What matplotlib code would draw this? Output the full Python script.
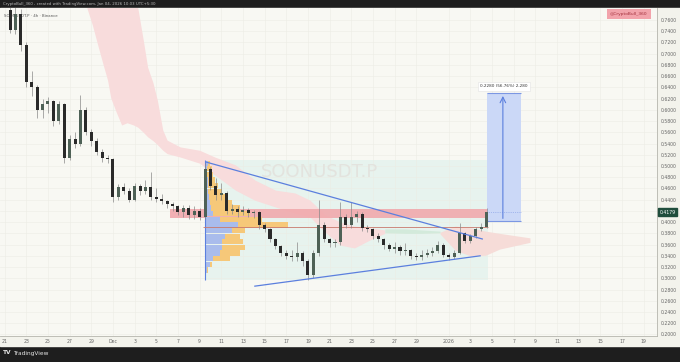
import numpy as np
import matplotlib.pyplot as plt
from matplotlib.patches import Rectangle

# x axis = days since Dec 1 2025, 12h candles
candle_day = np.arange(-9.5, 35.0, 0.5)
opens = [0.778, 0.742, 0.770, 0.715, 0.650, 0.640, 0.600, 0.610, 0.615, 0.580,
         0.610, 0.515, 0.548, 0.540, 0.600, 0.560, 0.545, 0.525, 0.515,
         0.512, 0.445, 0.462, 0.455, 0.440, 0.465, 0.455, 0.462, 0.445, 0.442,
         0.438, 0.432, 0.428, 0.418, 0.425, 0.412, 0.420, 0.410, 0.495, 0.465,
         0.448, 0.452, 0.420, 0.423, 0.418, 0.421, 0.416, 0.418, 0.395, 0.388,
         0.370, 0.358, 0.345, 0.340, 0.338, 0.345, 0.330, 0.305, 0.345, 0.395,
         0.370, 0.362, 0.365, 0.410, 0.395, 0.410, 0.415, 0.390, 0.388, 0.375,
         0.370, 0.360, 0.352, 0.355, 0.348, 0.350, 0.340, 0.338, 0.342, 0.345,
         0.348, 0.360, 0.342, 0.338, 0.345, 0.380, 0.366, 0.375, 0.388, 0.392]
highs = [0.785, 0.785, 0.780, 0.720, 0.670, 0.645, 0.620, 0.622, 0.617, 0.616,
         0.612, 0.555, 0.560, 0.627, 0.605, 0.565, 0.550, 0.530, 0.520,
         0.515, 0.468, 0.470, 0.460, 0.470, 0.468, 0.475, 0.490, 0.460, 0.450,
         0.440, 0.436, 0.430, 0.430, 0.430, 0.428, 0.425, 0.505, 0.498, 0.478,
         0.470, 0.455, 0.432, 0.428, 0.428, 0.425, 0.422, 0.420, 0.398, 0.390,
         0.372, 0.360, 0.350, 0.350, 0.365, 0.348, 0.335, 0.350, 0.440, 0.400,
         0.372, 0.370, 0.435, 0.415, 0.435, 0.420, 0.418, 0.395, 0.390, 0.380,
         0.372, 0.362, 0.365, 0.360, 0.362, 0.352, 0.345, 0.350, 0.352, 0.355,
         0.366, 0.362, 0.345, 0.350, 0.398, 0.382, 0.378, 0.392, 0.398, 0.425]
lows = [0.737, 0.735, 0.705, 0.640, 0.625, 0.585, 0.585, 0.595, 0.572, 0.575,
        0.505, 0.510, 0.532, 0.535, 0.555, 0.535, 0.520, 0.508, 0.505,
        0.435, 0.440, 0.450, 0.436, 0.437, 0.448, 0.450, 0.440, 0.435, 0.432,
        0.425, 0.420, 0.412, 0.410, 0.405, 0.405, 0.403, 0.405, 0.458, 0.440,
        0.440, 0.415, 0.415, 0.410, 0.412, 0.410, 0.408, 0.388, 0.382, 0.365,
        0.352, 0.340, 0.335, 0.330, 0.330, 0.322, 0.297, 0.300, 0.340, 0.365,
        0.356, 0.356, 0.360, 0.390, 0.390, 0.400, 0.385, 0.382, 0.370, 0.365,
        0.352, 0.348, 0.345, 0.342, 0.342, 0.335, 0.333, 0.333, 0.338, 0.340,
        0.345, 0.338, 0.333, 0.335, 0.343, 0.362, 0.362, 0.372, 0.385, 0.390]
closes = [0.742, 0.770, 0.715, 0.650, 0.640, 0.600, 0.610, 0.615, 0.580, 0.610,
          0.515, 0.548, 0.540, 0.600, 0.560, 0.545, 0.525, 0.515, 0.512,
          0.445, 0.462, 0.455, 0.440, 0.465, 0.455, 0.462, 0.445, 0.442, 0.438,
          0.432, 0.428, 0.418, 0.425, 0.412, 0.420, 0.410, 0.495, 0.465, 0.448,
          0.452, 0.420, 0.423, 0.418, 0.421, 0.416, 0.418, 0.395, 0.388, 0.370,
          0.358, 0.345, 0.340, 0.338, 0.345, 0.330, 0.305, 0.345, 0.395, 0.370,
          0.362, 0.365, 0.410, 0.395, 0.410, 0.415, 0.390, 0.388, 0.375, 0.370,
          0.360, 0.352, 0.355, 0.348, 0.350, 0.340, 0.338, 0.342, 0.345, 0.348,
          0.360, 0.342, 0.338, 0.345, 0.380, 0.366, 0.375, 0.388, 0.392, 0.418]

# ichimoku cloud (red part)
cloud_day = [-2.4, -1.9, -1.4, -0.9, -0.5, -0.2, 0.3, 0.8, 1.3, 1.9, 2.3, 2.8, 3.2,
             3.7, 4.1, 4.6, 5.0, 6.2, 8.0, 9.4, 11.3, 13.1, 15.0, 16.8, 18.2,
             19.6, 21.0, 22.3, 23.7, 25.1]
cloud_top = [0.80, 0.80, 0.80, 0.80, 0.80, 0.80, 0.80, 0.80, 0.80, 0.80, 0.781,
             0.724, 0.676, 0.648, 0.617, 0.564, 0.546, 0.534, 0.528, 0.516,
             0.502, 0.475, 0.457, 0.452, 0.439, 0.413, 0.400, 0.393, 0.390, 0.386]
cloud_bot = [0.781, 0.751, 0.715, 0.680, 0.653, 0.621, 0.596, 0.573, 0.577, 0.573,
             0.569, 0.560, 0.552, 0.545, 0.538, 0.528, 0.522, 0.516, 0.505,
             0.484, 0.457, 0.439, 0.427, 0.416, 0.409, 0.382, 0.359, 0.354,
             0.368, 0.380]
green_day = [25.1, 27.0, 28.5, 30.2]
green_top = [0.388, 0.388, 0.386, 0.384]
green_bot = [0.381, 0.380, 0.380, 0.381]
future_day = [30.2, 31.6, 33.0, 34.4, 35.7, 37.1, 38.5]
future_top = [0.382, 0.393, 0.390, 0.384, 0.380, 0.376, 0.372]
future_bot = [0.379, 0.350, 0.340, 0.341, 0.352, 0.358, 0.364]

# fixed range volume profile
vp_row = [0.500, 0.490, 0.480, 0.470, 0.460, 0.450, 0.440, 0.430, 0.420, 0.410,
          0.400, 0.390, 0.380, 0.370, 0.360, 0.350, 0.340, 0.330, 0.320, 0.310, 0.300]
vp_up = [0.28, 0.18, 0.18, 0.28, 0.28, 0.28, 0.37, 0.46, 0.55, 0.74,
         1.39, 3.05, 2.49, 1.85, 1.57, 1.57, 1.39, 0.74, 0.46, 0.18, 0.09]
vp_down = [0.18, 0.46, 0.55, 0.65, 0.92, 1.29, 1.48, 2.03, 2.68, 3.42,
           3.88, 4.62, 1.20, 1.39, 1.94, 2.12, 1.85, 1.57, 0.18, 0.09, 0.0]
vp_start, vp_end = 8.5, 34.6
poc_price = 0.391

# drawings
zone_low, zone_high = 0.407, 0.424
down_line = ([8.6, 34.1], [0.507, 0.370])
up_line = ([13.1, 33.9], [0.286, 0.340])
range_low, range_high = 0.4017, 0.6297
range_days = (34.53, 37.67)
last_price = 0.4179

tick_days = [-10, -8, -6, -4, -2, 0, 2, 4, 6, 8, 10, 12, 14, 16, 18, 20, 22, 24, 26, 28,
             31, 33, 35, 37, 39, 41, 43, 45, 47, 49]
tick_labels = ['21', '23', '25', '27', '29', 'Dec', '3', '5', '7', '9', '11', '13', '15',
               '17', '19', '21', '23', '25', '27', '29', '2026', '3', '5', '7', '9',
               '11', '13', '15', '17', '19']
price_ticks = np.round(np.arange(0.20, 0.77, 0.02), 2)

fig = plt.figure(figsize=(6.8, 3.62), dpi=100, facecolor='#1e1e1e')
fig.patches.append(Rectangle((0, 16 / 362), 1, 338 / 362, transform=fig.transFigure,
                             color='#f3f3ec', zorder=-5))
ax = fig.add_axes([0, 26 / 362, 657 / 680, 328 / 362])
ax.set_zorder(2)
ax.set_facecolor('#f8f8f3')
ax.set_xlim(-10.43, 50.23)
ax.set_ylim(0.1972, 0.7814)

ax.grid(color='#ecece5', lw=0.4, zorder=0)
ax.set_xticks(tick_days)
ax.set_xticklabels(tick_labels)
ax.set_yticks(price_ticks)
ax.set_yticklabels([f'{p:.4f}' for p in price_ticks])
ax.yaxis.tick_right()
ax.tick_params(axis='both', length=0, labelsize=3.3, labelcolor='#666666')
ax.tick_params(axis='x', pad=2)
ax.tick_params(axis='y', pad=2.5)
for s in ['top', 'left']:
    ax.spines[s].set_visible(False)
for s in ['right', 'bottom']:
    ax.spines[s].set_color('#b5b5ad')
    ax.spines[s].set_linewidth(0.6)

# background boxes and clouds
ax.add_patch(Rectangle((vp_start, 0.297), vp_end - vp_start, 0.213, fc='#e7f3ee',
                       ec='none', zorder=1))
ax.fill_between(cloud_day, cloud_bot, cloud_top, color='#f8dcdc', lw=0, zorder=2)
ax.fill_between(green_day, green_bot, green_top, color='#d3eadb', lw=0, zorder=2)
ax.fill_between(future_day, future_bot, future_top, color='#f6dcd8', lw=0, zorder=2)
ax.text(19.1, 0.489, 'SOONUSDT.P', fontsize=13, color='#e3e3de', ha='center',
        va='center', zorder=2)

ax.add_patch(Rectangle((5.26, zone_low), 34.8 - 5.26, zone_high - zone_low,
                       fc='#f1a9ad', ec='none', alpha=0.9, zorder=3))

# volume profile
ax.barh(np.array(vp_row) + 0.005, vp_up, height=0.0095, left=vp_start,
        color='#a9bcec', zorder=4)
ax.barh(np.array(vp_row) + 0.005, vp_down, height=0.0095,
        left=vp_start + np.array(vp_up), color='#f6c879', zorder=4)
ax.vlines(vp_start, 0.297, 0.510, color='#5b7fde', lw=0.8, zorder=4)
ax.hlines(poc_price, vp_start - 0.2, vp_end, color='#c9786c', lw=0.6, zorder=4)

# long/short range box
ax.add_patch(Rectangle((range_days[0], range_low), range_days[1] - range_days[0],
                       range_high - range_low, fc='#cbd8f7', ec='none', zorder=3))
ax.hlines([range_low, range_high], *range_days, color='#7c97e3', lw=0.8, zorder=3)
ax.hlines(last_price, *range_days, color='#7c97e3', lw=0.5, ls=':', zorder=3)
mid = 36.0
ax.annotate('', xy=(mid, range_high), xytext=(mid, range_low),
            arrowprops=dict(arrowstyle='->', color='#5b7fde', lw=0.8), zorder=6)
ax.text(36.1, range_high + 0.012, '0.2280 (56.76%) 2,280', fontsize=3, color='#333333',
        ha='center', va='center', zorder=7,
        bbox=dict(boxstyle='square,pad=0.5', fc='white', ec='#e2e2e2', lw=0.4))

# candles
up = np.array(closes) >= np.array(opens)
body_low = np.minimum(opens, closes)
body_h = np.abs(np.array(closes) - np.array(opens))
ax.vlines(candle_day, lows, highs, color='#8a8a8a', lw=0.5, zorder=5)
ax.bar(candle_day, np.maximum(body_h, 0.002), bottom=body_low, width=0.28,
       color=np.where(up, '#4e6156', '#2a2a2a'), zorder=5)

# trendlines
ax.plot(*down_line, color='#5b7fde', lw=0.9, zorder=6)
ax.plot(*up_line, color='#5b7fde', lw=0.9, zorder=6)

# labels
ax.annotate(f'{last_price:.4f}', xy=(1.004, last_price), xycoords=('axes fraction', 'data'),
            fontsize=3.3, color='white', ha='left', va='center', annotation_clip=False,
            bbox=dict(boxstyle='square,pad=0.35', fc='#1f4d3c', ec='#1f4d3c'))
ax.text(0.957, 0.982, '@CryptoBull_360', transform=ax.transAxes, fontsize=3.2,
        color='#a3303c', ha='center', va='center', zorder=8,
        bbox=dict(boxstyle='square,pad=0.7', fc='#f2a3ab', ec='none'))
ax.text(0.006, 0.975, 'SOONUSDT.P · 4h · Binance', transform=ax.transAxes,
        fontsize=2.8, color='#555555', ha='left', va='center', zorder=4)

fig.text(0.004, 1 - 4 / 362, 'CryptoBull_360 , created with TradingView.com, Jan 04, 2026 10:03 UTC+5:30',
         fontsize=2.8, color='#bbbbbb', va='center')
fig.text(0.005, 9 / 362, 'TV', fontsize=4.2, color='#e6e6e6', fontweight='bold', va='center')
fig.text(0.019, 9 / 362, 'TradingView', fontsize=4.2, color='#e6e6e6', va='center')

fig.savefig('out.png', dpi=100, facecolor=fig.get_facecolor())
